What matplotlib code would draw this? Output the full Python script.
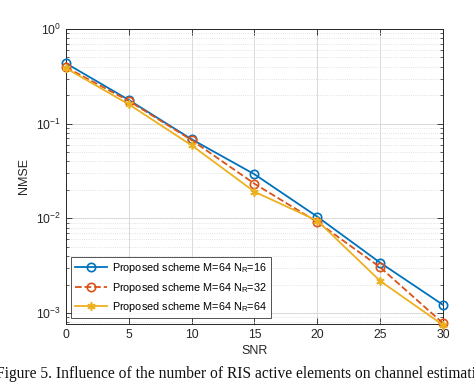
import matplotlib
matplotlib.use("Agg")
import matplotlib.pyplot as plt
from matplotlib.ticker import LogLocator, NullFormatter, FixedLocator

snr = [0, 5, 10, 15, 20, 25, 30]
nmse_nr16 = [0.434, 0.178, 0.0684, 0.0292, 0.0104, 0.0034, 0.00122]
nmse_nr32 = [0.394, 0.174, 0.067, 0.0232, 0.00915, 0.00304, 0.00078]
nmse_nr64 = [0.385, 0.160, 0.059, 0.0191, 0.00944, 0.00218, 0.000747]
labels = [r"Proposed scheme M=64 N$_\mathregular{R}$=16",
          r"Proposed scheme M=64 N$_\mathregular{R}$=32",
          r"Proposed scheme M=64 N$_\mathregular{R}$=64"]
caption = "Figure 5. Influence of the number of RIS active elements on channel estimation"

plt.rcParams['font.family'] = ['Liberation Sans', 'DejaVu Sans']
plt.rcParams['mathtext.fontset'] = 'custom'
plt.rcParams['mathtext.rm'] = 'Liberation Sans'

fig = plt.figure(figsize=(4.74, 3.84), dpi=100)
ax = fig.add_axes([66/474, 1-324/384, (443-66)/474, (324-29)/384])

blue = '#0072BD'
orange = '#D95319'
yellow = '#EDB120'

ax.plot(snr, nmse_nr16, '-o', color=blue, lw=1.3, ms=6, mfc='none', mew=1.2, label=labels[0], clip_on=False, zorder=3)
ax.plot(snr, nmse_nr32, '--o', color=orange, lw=1.3, ms=6, mfc='none', mew=1.2, label=labels[1], clip_on=False, zorder=3)
ax.plot(snr, nmse_nr64, '-', marker=(6, 2, 0), color=yellow, lw=1.3, ms=6, mew=1.2, label=labels[2], clip_on=False, zorder=3)

ax.set_yscale('log')
ax.set_xlim(0, 30)
ax.set_ylim(10**-3.116, 1)
ax.xaxis.set_major_locator(FixedLocator([0, 5, 10, 15, 20, 25, 30]))
ax.yaxis.set_major_locator(LogLocator(base=10, numticks=10))
ax.yaxis.set_minor_locator(LogLocator(base=10, subs=range(2, 10), numticks=20))
ax.yaxis.set_minor_formatter(NullFormatter())

ax.grid(True, which='major', color='#d9d9d9', lw=0.7, ls='-')
ax.grid(True, which='minor', axis='y', color='#d9d9d9', lw=0.6, ls=':')
ax.set_axisbelow(True)

ax.tick_params(which='both', direction='in', top=True, right=True, colors='#262626', labelsize=8.8)
ax.tick_params(which='major', length=4, width=0.6)
ax.tick_params(which='minor', length=2, width=0.5)
for sp in ax.spines.values():
    sp.set_color('#262626')
    sp.set_linewidth(0.7)

ax.set_xlabel('SNR', fontsize=9, color='#262626', labelpad=3)
ax.set_ylabel('NMSE', fontsize=9, color='#262626', labelpad=4)

leg = ax.legend(loc='lower left', bbox_to_anchor=(0.005, 0.01), fontsize=7.8, frameon=True,
                fancybox=False, edgecolor='#262626', handlelength=3.0, borderpad=0.35,
                labelspacing=0.5, handletextpad=0.4, borderaxespad=0.3)
leg.get_frame().set_linewidth(0.7)

fig.text(-0.008, 6/384, caption, fontsize=11.2, family=['Liberation Serif', 'DejaVu Serif'],
         ha='left', va='baseline', color='#111111')

fig.savefig('out.png', dpi=100)
